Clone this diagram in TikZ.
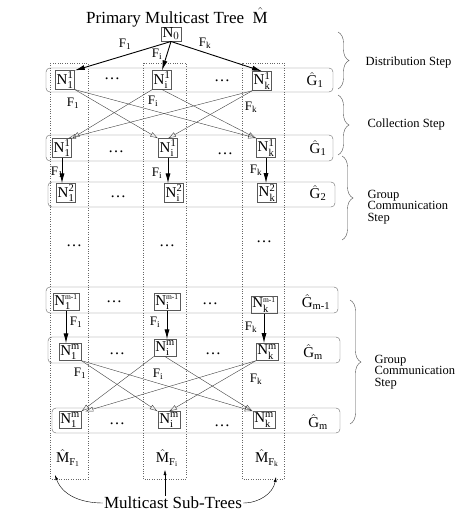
\documentclass[tikz,border=0pt]{standalone}
\usepackage{amsmath}
\usepackage{fontspec}
\setmainfont{Liberation Serif}
\usetikzlibrary{arrows.meta,decorations.pathreplacing}

\newcommand{\nd}[2]{$\mathrm{N}^{\mathrm{#2}}_{\mathrm{#1}}$}
\newcommand{\ndm}[1]{$\mathrm{N}^{\scriptscriptstyle\mathrm{m\text{-}1}}_{\mathrm{#1}}$}
\newcommand{\gh}[1]{$\hat{\mathrm{G}}_{\mathrm{#1}}$}
\newcommand{\flow}[1]{$\mathrm{F}_{\mathrm{#1}}$}

\tikzset{
  nbox/.style={draw=black!65, thin, inner sep=1.3pt, font=\fontsize{15}{15}\selectfont},
  grp/.style={draw=black!60, thin, rounded corners=4pt},
  col/.style={draw=black!60, dotted, thin},
  lbl/.style={font=\fontsize{13}{13}\selectfont},
  dots/.style={font=\fontsize{16}{16}\selectfont},
  glbl/.style={font=\fontsize{15}{15}\selectfont},
  send/.style={line width=0.9pt, -{Latex[length=10pt,width=5pt]}},
  swap/.style={draw=black!75, thin, -{Latex[open,length=8pt,width=5pt]}},
  brc/.style={draw=black!70, thin, decorate, decoration={brace, amplitude=11pt}},
  steplbl/.style={font=\fontsize{12.5}{11.5}\selectfont, align=left, anchor=west}
}

\begin{document}
\begin{tikzpicture}[x=1pt, y=-1pt]
    \useasboundingbox (0, 0) rectangle (474, 532);

    % Columns of the sub-trees
    \draw[col] (50, 63) rectangle (88, 479);
    \draw[col] (143, 63) rectangle (186, 479);
    \draw[col] (242, 63) rectangle (284, 479);

    % Groups
    \draw[grp] (46, 68) rectangle (333, 92);
    \draw[grp] (46, 135) rectangle (333, 161);
    \draw[grp] (48, 182) rectangle (335, 207);
    \draw[grp] (46, 287) rectangle (338, 313);
    \draw[grp] (48, 337) rectangle (340, 363);
    \draw[grp] (52, 408) rectangle (340, 433);

    \node[font=\fontsize{17}{17}\selectfont] (title) at (177, 17)
      {Primary Multicast Tree\enspace$\hat{\mathrm{M}}$};
    \node[nbox] (n0) at (171, 34) {$\mathrm{N}_{0}$};

    % First group (distribution)
    \node[nbox] (a1) at (65, 80) {\nd{1}{1}};
    \node[nbox] (a2) at (162, 80) {\nd{i}{1}};
    \node[nbox] (a3) at (262, 81) {\nd{k}{1}};
    \node[dots] at (112, 79) {\ldots};
    \node[dots] at (222, 81) {\ldots};
    \node[glbl] (g1) at (315, 80) {\gh{1}};

    % First group (collection)
    \node[nbox] (b1) at (62, 148) {\nd{1}{1}};
    \node[nbox] (b2) at (168, 148) {\nd{i}{1}};
    \node[nbox] (b3) at (266, 148) {\nd{k}{1}};
    \node[dots] at (116, 152) {\ldots};
    \node[dots] at (225, 154) {\ldots};
    \node[glbl] (g1b) at (318, 148) {\gh{1}};

    % Second group
    \node[nbox] (c1) at (66, 193) {\nd{1}{2}};
    \node[nbox] (c2) at (174, 193) {\nd{i}{2}};
    \node[nbox] (c3) at (267, 193) {\nd{k}{2}};
    \node[dots] at (118, 197) {\ldots};
    \node[glbl] (g2) at (318, 193) {\gh{2}};

    \node[dots] at (74, 246) {\ldots};
    \node[dots] at (167, 246) {\ldots};
    \node[dots] at (264, 242) {\ldots};

    % Groups m-1 and m
    \node[nbox] (d1) at (66, 302) {\ndm{1}};
    \node[nbox] (d2) at (167, 302) {\ndm{i}};
    \node[nbox] (d3) at (264, 305) {\ndm{k}};
    \node[dots] at (114, 302) {\ldots};
    \node[dots] at (210, 304) {\ldots};
    \node[glbl] (gd) at (316, 302) {$\hat{\mathrm{G}}_{\mathrm{m\text{-}1}}$};

    \node[nbox] (e1) at (70, 352) {\nd{1}{m}};
    \node[nbox] (e2) at (165, 348) {\nd{i}{m}};
    \node[nbox] (e3) at (267, 352) {\nd{k}{m}};
    \node[dots] at (117, 354) {\ldots};
    \node[dots] at (213, 354) {\ldots};
    \node[glbl] (ge) at (313, 352) {\gh{m}};

    \node[nbox] (f1) at (70, 420) {\nd{1}{m}};
    \node[nbox] (f2) at (169, 420) {\nd{i}{m}};
    \node[nbox] (f3) at (264, 420) {\nd{k}{m}};
    \node[dots] at (117, 424) {\ldots};
    \node[dots] at (222, 426) {\ldots};
    \node[glbl] (gf) at (318, 422) {\gh{m}};

    % Distribution from the root
    \draw[send] (n0.south) -- (a1.north east);
    \draw[send] (n0.south) -- (a2.north);
    \draw[send] (n0.south) -- (a3.north);
    \node[lbl] at (125, 44) {\flow{1}};
    \node[lbl] at (157, 54) {\flow{i}};
    \node[lbl] at (205, 43) {\flow{k}};

    % Collection step
    \draw[swap] (a1.south east) -- (b2.north west);
    \draw[swap] (a1.south east) -- (b3.north west);
    \draw[swap] (a2.south west) -- (b1.north east);
    \draw[swap] (a2.south) -- (b3.north west);
    \draw[swap] (a3.south west) -- ([xshift=-4pt]b1.north east);
    \draw[swap] (a3.south west) -- (b2.north);
    \node[lbl] at (73, 103) {\flow{1}};
    \node[lbl] at (153, 101) {\flow{i}};
    \node[lbl] at (251, 107) {\flow{k}};

    % Group communication 1 -> 2
    \draw[send] (b1.south) -- (b1.south |- c1.north);
    \draw[send] (b2.south) -- (b2.south |- c2.north);
    \draw[send] (b3.south) -- (b3.south |- c3.north);
    \node[lbl] at (57, 172) {\flow{1}};
    \node[lbl] at (157, 173) {\flow{i}};
    \node[lbl] at (256, 170) {\flow{k}};

    % Group communication m-1 -> m
    \draw[send] (d1.south) -- (d1.south |- e1.north);
    \draw[send] (d2.south) -- (d2.south |- e2.north);
    \draw[send] (d3.south) -- (d3.south |- e3.north);
    \node[lbl] at (76, 322) {\flow{1}};
    \node[lbl] at (155, 322) {\flow{i}};
    \node[lbl] at (251, 327) {\flow{k}};

    \draw[swap] (e1.south east) -- (f2.north west);
    \draw[swap] (e1.south east) -- (f3.north west);
    \draw[swap] (e2.south west) -- (f1.north east);
    \draw[swap] (e2.south) -- (f3.north west);
    \draw[swap] (e3.south west) -- ([xshift=4pt]f1.north east);
    \draw[swap] (e3.south west) -- (f2.north);
    \node[lbl] at (80, 373) {\flow{1}};
    \node[lbl] at (158, 374) {\flow{i}};
    \node[lbl] at (256, 379) {\flow{k}};

    % Steps
    \draw[brc] (338, 32) -- (338, 89);
    \node[steplbl] at (362, 62) {Distribution Step};
    \draw[brc] (338, 95) -- (338, 155);
    \node[steplbl] at (364, 124) {Collection Step};
    \draw[brc] (342, 156) -- (342, 240);
    \node[steplbl] at (364, 207) {Group\\Communication\\Step};
    \draw[brc] (350, 300) -- (350, 424);
    \node[steplbl] at (371, 372) {Group\\Communication\\Step};

    % Sub-trees
    \node[glbl] (m1) at (68, 458) {$\hat{\mathrm{M}}_{\mathrm{F}_{\mathrm{1}}}$};
    \node[glbl] (m2) at (167, 458) {$\hat{\mathrm{M}}_{\mathrm{F}_{\mathrm{i}}}$};
    \node[glbl] (m3) at (267, 458) {$\hat{\mathrm{M}}_{\mathrm{F}_{\mathrm{k}}}$};
    \coordinate (t1) at (55, 475);
    \coordinate (t2) at (165, 470);
    \coordinate (t3) at (276, 477);
    \node[font=\fontsize{17}{17}\selectfont, inner sep=1pt] (sub) at (173, 503) {Multicast Sub-Trees};
    \draw[-{Latex[length=5pt,width=3pt]}, thin] (sub.west) to[out=180, in=-70] (t1);
    \draw[-{Latex[length=5pt,width=3pt]}, thin] (sub.north -| t2) -- (t2);
    \draw[-{Latex[length=5pt,width=3pt]}, thin] (sub.east) to[out=0, in=-100] (t3);
\end{tikzpicture}
\end{document}
